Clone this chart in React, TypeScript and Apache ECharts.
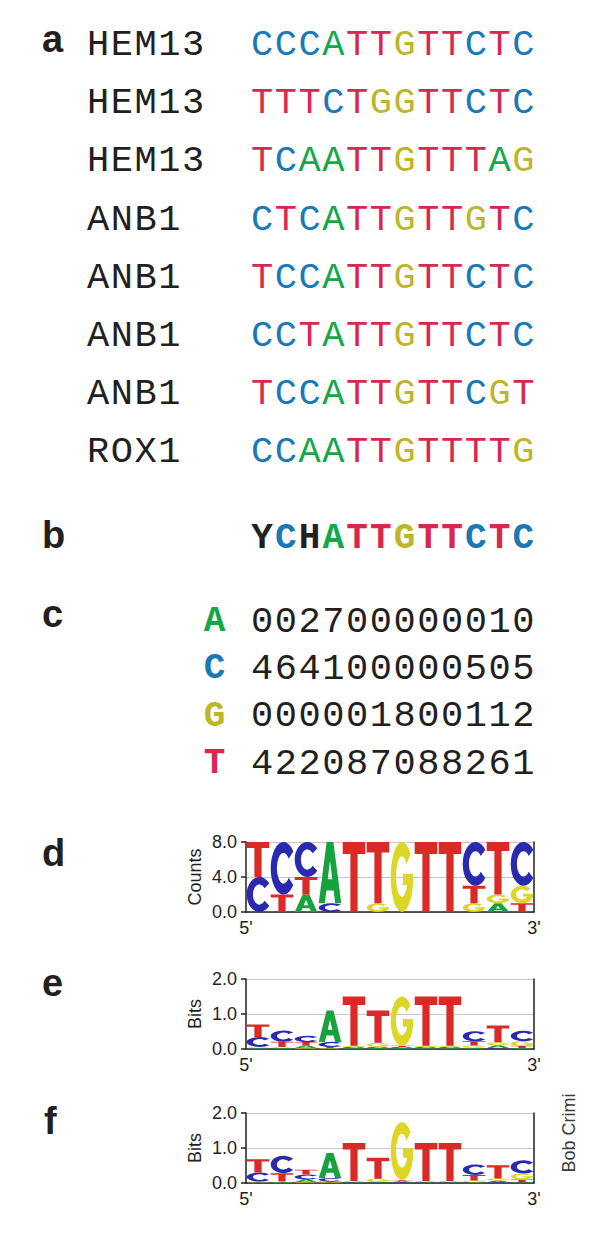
import React, { useEffect, useRef } from 'react';
import * as echarts from 'echarts';

// ---------- data ----------
const NAMES = ['HEM13', 'HEM13', 'HEM13', 'ANB1', 'ANB1', 'ANB1', 'ANB1', 'ROX1'];
const SEQUENCES = [
  'CCCATTGTTCTC',
  'TTTCTGGTTCTC',
  'TCAATTGTTTAG',
  'CTCATTGTTGTC',
  'TCCATTGTTCTC',
  'CCTATTGTTCTC',
  'TCCATTGTTCGT',
  'CCAATTGTTTTG',
];
const CONSENSUS = 'YCHATTGTTCTC';
const BASES = ['A', 'C', 'G', 'T'];

const COUNTS_A = [0, 0, 2, 7, 0, 0, 0, 0, 0, 0, 1, 0];
const COUNTS_C = [4, 6, 4, 1, 0, 0, 0, 0, 0, 5, 0, 5];
const COUNTS_G = [0, 0, 0, 0, 0, 1, 8, 0, 0, 1, 1, 2];
const COUNTS_T = [4, 2, 2, 0, 8, 7, 0, 8, 8, 2, 6, 1];

// bits (panel e)
const BITS_E_A = [0.03, 0.03, 0.07, 0.9, 0.03, 0.03, 0.03, 0.03, 0.03, 0.03, 0.08, 0.03];
const BITS_E_C = [0.28, 0.32, 0.17, 0.14, 0.03, 0.03, 0.03, 0.03, 0.03, 0.29, 0.03, 0.3];
const BITS_E_G = [0.03, 0.03, 0.03, 0.03, 0.03, 0.12, 1.41, 0.03, 0.03, 0.07, 0.08, 0.13];
const BITS_E_T = [0.36, 0.15, 0.1, 0.03, 1.41, 0.92, 0.03, 1.41, 1.41, 0.12, 0.48, 0.06];

// bits (panel f)
const BITS_F_A = [0.02, 0.02, 0.07, 0.72, 0.02, 0.02, 0.03, 0.02, 0.02, 0.02, 0.05, 0.02];
const BITS_F_C = [0.26, 0.5, 0.14, 0.1, 0.02, 0.02, 0.02, 0.02, 0.02, 0.3, 0.02, 0.38];
const BITS_F_G = [0.02, 0.02, 0.03, 0.02, 0.02, 0.08, 1.66, 0.02, 0.02, 0.05, 0.06, 0.17];
const BITS_F_T = [0.38, 0.24, 0.14, 0.02, 1.08, 0.6, 0.03, 1.08, 1.08, 0.16, 0.38, 0.08];

const COUNT_TICKS = [0, 4, 8];
const BIT_TICKS = [0, 1, 2];

// ---------- styles ----------
const SEQ_COLORS: Record<string, string> = {
  A: '#14a84b',
  C: '#1979b6',
  G: '#bdb52c',
  T: '#d92850',
  Y: '#231f20',
  H: '#231f20',
};
const LOGO_COLORS = ['#17a23e', '#2a2ab0', '#dcd626', '#da2a26'];
const INK = '#231f20';

// glyph outlines for logo letters (drawn into a box, stretched to fit)
const LETTER_PATHS = [
  'M0 100L35 0H65L100 100H73L66 79H34L27 100Z M40 61H60L50 30Z',
  'M88 18A50 50 0 1 0 88 82L70 68A26 29 0 1 1 70 32Z',
  'M88 18A50 50 0 1 0 100 52V46H54V62H73A26 29 0 1 1 70 32Z',
  'M0 0H100V17H66V100H34V17H0Z',
];

const MONO = '"Liberation Mono", "DejaVu Sans Mono", monospace';
const SANS = '"Liberation Sans", "DejaVu Sans", sans-serif';

// layout (pixels)
const PITCH = 23.75;
const X0 = 262;
const XMIN = -11;
const XMAX = 14;
const NAME_START = (98 - X0) / PITCH;
const MATRIX_LETTER_X = -2;

function buildLogo(matrix: number[][]) {
  const items: number[][] = [];
  for (let c = 0; c < matrix[0].length; c++) {
    const order = [0, 1, 2, 3]
      .filter((l) => matrix[l][c] > 0)
      .sort((a, b) => matrix[a][c] - matrix[b][c] || a - b);
    let base = 0;
    for (const l of order) {
      const h = matrix[l][c];
      items.push([c + 0.5, base, base + h, l]);
      base += h;
    }
  }
  return items;
}

function logoRender(params: any, api: any) {
  const col = api.value(0);
  const base = api.value(1);
  const top = api.value(2);
  const li = api.value(3);
  const p0 = api.coord([col - 0.47, top]);
  const p1 = api.coord([col + 0.47, base]);
  const h = p1[1] - p0[1];
  if (h < 0.4) return { type: 'group', children: [] };
  return {
    type: 'path',
    shape: {
      pathData: LETTER_PATHS[li],
      x: p0[0],
      y: p0[1],
      width: p1[0] - p0[0],
      height: h,
      layout: 'cover',
    },
    style: { fill: LOGO_COLORS[li] },
  };
}

function textSeries(
  gridIdx: number,
  items: { x: number; y: number; text: string; color: string; bold?: boolean; size?: number }[]
) {
  return {
    type: 'custom',
    xAxisIndex: gridIdx,
    yAxisIndex: gridIdx,
    silent: true,
    clip: false,
    data: items.map((it) => [it.x, it.y]),
    encode: { x: 0, y: 1 },
    renderItem: (params: any, api: any) => {
      const it = items[params.dataIndex];
      const pt = api.coord([api.value(0), api.value(1)]);
      return {
        type: 'text',
        x: pt[0],
        y: pt[1],
        style: {
          text: it.text,
          fill: it.color,
          fontFamily: MONO,
          fontSize: it.size || 37,
          fontWeight: it.bold ? 'bold' : 'normal',
          align: 'center',
          verticalAlign: 'middle',
        },
      };
    },
  };
}

export default function App() {
  const ref = useRef<HTMLDivElement>(null);

  useEffect(() => {
    document.body.style.margin = '0';
    if (!ref.current) return;
    const chart = echarts.init(ref.current, null, { renderer: 'svg' });

    // panel a
    const seqItems: any[] = [];
    SEQUENCES.forEach((s, r) => {
      s.split('').forEach((ch, p) => seqItems.push({ x: p, y: r, text: ch, color: SEQ_COLORS[ch] }));
    });
    const nameItems: any[] = [];
    NAMES.forEach((n, r) => {
      n.split('').forEach((ch, j) => nameItems.push({ x: NAME_START + j, y: r, text: ch, color: INK }));
    });
    // panel b
    const consItems = CONSENSUS.split('').map((ch, p) => ({
      x: p,
      y: 0,
      text: ch,
      color: SEQ_COLORS[ch],
      bold: true,
      size: 36,
    }));
    // panel c
    const counts = [COUNTS_A, COUNTS_C, COUNTS_G, COUNTS_T];
    const matItems: any[] = [];
    counts.forEach((row, r) => {
      matItems.push({ x: MATRIX_LETTER_X, y: r, text: BASES[r], color: SEQ_COLORS[BASES[r]], bold: true, size: 36 });
      row.forEach((v, p) => matItems.push({ x: p, y: r, text: String(v), color: INK }));
    });

    const textX = (i: number) => ({
      type: 'value',
      gridIndex: i,
      min: XMIN,
      max: XMAX,
      show: false,
    });
    const textY = (i: number, n: number) => ({
      type: 'value',
      gridIndex: i,
      min: -0.5,
      max: n - 0.5,
      inverse: true,
      show: false,
    });

    const logoX = (i: number) => ({
      type: 'value',
      gridIndex: i,
      min: 0,
      max: 12,
      interval: 12,
      axisLine: { show: true, lineStyle: { color: INK, width: 1.5 } },
      axisTick: { show: false },
      splitLine: { show: false },
      axisLabel: {
        formatter: (v: number) => (v === 0 ? "5'" : "3'"),
        margin: 7,
        fontFamily: SANS,
        fontSize: 18,
        color: INK,
      },
    });
    const logoY = (i: number, max: number, interval: number, name: string) => ({
      type: 'value',
      gridIndex: i,
      min: 0,
      max,
      interval,
      name,
      nameLocation: 'middle',
      nameRotate: 90,
      nameGap: 42,
      nameTextStyle: { fontFamily: SANS, fontSize: 18, color: INK },
      axisLine: { show: true, lineStyle: { color: INK, width: 1.5 } },
      axisTick: { show: true, length: 5, lineStyle: { color: INK, width: 1.5 } },
      splitLine: { show: true, lineStyle: { color: '#c8c8c8', width: 1 } },
      axisLabel: {
        formatter: (v: number) => v.toFixed(1),
        margin: 9,
        fontFamily: SANS,
        fontSize: 18,
        color: INK,
      },
    });
    const logoYRight = (i: number, max: number) => ({
      type: 'value',
      gridIndex: i,
      position: 'right',
      min: 0,
      max,
      axisLine: { show: true, lineStyle: { color: INK, width: 1.5 } },
      axisTick: { show: false },
      axisLabel: { show: false },
      splitLine: { show: false },
    });

    const textLeft = X0 + XMIN * PITCH;
    const textWidth = (XMAX - XMIN) * PITCH;

    const label = (t: string, x: number, y: number) => ({
      type: 'text',
      x,
      y,
      style: {
        text: t,
        font: 'bold 38px "Liberation Sans", "DejaVu Sans", sans-serif',
        fill: INK,
        align: 'left',
        verticalAlign: 'middle',
      },
    });

    chart.setOption({
      animation: false,
      backgroundColor: '#ffffff',
      grid: [
        { left: textLeft, width: textWidth, top: 15.9, height: 8 * 58.2 },
        { left: textLeft, width: textWidth, top: 518, height: 40 },
        { left: textLeft, width: textWidth, top: 598, height: 4 * 47.3 },
        { left: 246, width: 288, top: 842, height: 70 },
        { left: 246, width: 288, top: 979, height: 70 },
        { left: 246, width: 288, top: 1113, height: 70 },
      ],
      xAxis: [textX(0), textX(1), textX(2), logoX(3), logoX(4), logoX(5)],
      yAxis: [
        textY(0, 8),
        textY(1, 1),
        textY(2, 4),
        logoY(3, COUNT_TICKS[2], COUNT_TICKS[1], 'Counts'),
        logoY(4, BIT_TICKS[2], BIT_TICKS[1], 'Bits'),
        logoY(5, BIT_TICKS[2], BIT_TICKS[1], 'Bits'),
        logoYRight(3, COUNT_TICKS[2]),
        logoYRight(4, BIT_TICKS[2]),
        logoYRight(5, BIT_TICKS[2]),
      ],
      series: [
        textSeries(0, seqItems),
        textSeries(0, nameItems),
        textSeries(1, consItems),
        textSeries(2, matItems),
        {
          type: 'custom',
          xAxisIndex: 3,
          yAxisIndex: 3,
          data: buildLogo(counts),
          encode: { x: 0, y: [1, 2] },
          renderItem: logoRender,
          silent: true,
        },
        {
          type: 'custom',
          xAxisIndex: 4,
          yAxisIndex: 4,
          data: buildLogo([BITS_E_A, BITS_E_C, BITS_E_G, BITS_E_T]),
          encode: { x: 0, y: [1, 2] },
          renderItem: logoRender,
          silent: true,
        },
        {
          type: 'custom',
          xAxisIndex: 5,
          yAxisIndex: 5,
          data: buildLogo([BITS_F_A, BITS_F_C, BITS_F_G, BITS_F_T]),
          encode: { x: 0, y: [1, 2] },
          renderItem: logoRender,
          silent: true,
        },
      ],
      graphic: [
        label('a', 42, 39),
        label('b', 42, 535),
        label('c', 42, 614),
        label('d', 42, 853),
        label('e', 42, 983),
        label('f', 44, 1121),
        {
          type: 'text',
          x: 569,
          y: 1133,
          rotation: Math.PI / 2,
          style: {
            text: 'Bob Crimi',
            font: '18px "Liberation Sans", sans-serif',
            fill: '#3a3a3a',
            align: 'center',
            verticalAlign: 'middle',
          },
        },
      ],
    });

    return () => chart.dispose();
  }, []);

  return <div ref={ref} style={{ width: 600, height: 1234 }} />;
}
